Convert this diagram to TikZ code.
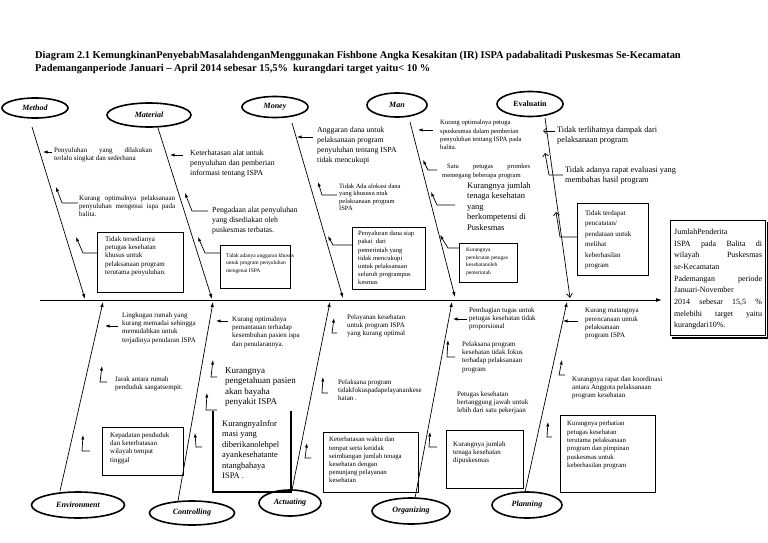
\documentclass[tikz,border=0pt]{standalone}
\usepackage{fontspec}
\setmainfont{Liberation Serif}
\usetikzlibrary{arrows.meta,shapes.geometric}
\begin{document}
\begin{tikzpicture}[x=1pt,y=-1pt,
 bone/.style={line width=0.7pt,-{Latex[length=5pt,width=3.5pt]}},
 obone/.style={line width=0.7pt,-{Straight Barb[length=4pt,width=6pt]}},
 cause/.style={line width=0.7pt,-{Latex[length=4.5pt,width=3.2pt]}},
 ocause/.style={line width=0.7pt,-{Straight Barb[length=3pt,width=6pt]}},
 ell/.style={ellipse,draw,line width=1.6pt,inner sep=0pt,font=\fontsize{8}{9}\selectfont\bfseries\itshape},
 sb/.style={anchor=north west,inner sep=0pt,align=left,font=\fontsize{7}{8.4}\selectfont},
 sa/.style={anchor=north west,inner sep=0pt,align=left,font=\fontsize{5.5}{7.5}\selectfont},
 md/.style={anchor=north west,inner sep=0pt,align=left,font=\fontsize{7.8}{9.8}\selectfont},
 lg/.style={anchor=north west,inner sep=0pt,align=left,font=\fontsize{8.5}{10.5}\selectfont},
 bx/.style={draw,line width=1.2pt,anchor=north west,inner sep=0pt},
]
\useasboundingbox (0,0) rectangle (768,543);
\fill[white] (0,0) rectangle (768,543);

% title
\node[anchor=north west,inner sep=0pt,align=left,font=\fontsize{10.4}{13}\selectfont\bfseries] (title) at (35,51)
 {Diagram 2.1 KemungkinanPenyebabMasalahdenganMenggunakan Fishbone Angka Kesakitan (IR) ISPA padabalitadi Puskesmas Se-Kecamatan\\
  Pademanganperiode Januari -- April 2014 sebesar 15,5\%\ \ kurangdari target yaitu< 10 \%};

% effect box
\node[draw=black,line width=1.3pt,anchor=north west,inner xsep=3.5pt,inner ysep=0pt,minimum height=115pt,
      align=justify,text width=88pt,font=\fontsize{8}{11.7}\selectfont] (eff) at (670,220)
 {\rule{0pt}{12pt}JumlahPenderita\\ ISPA pada Balita di\linebreak wilayah\ \ Puskesmas\linebreak se-Kecamatan\\ Pademangan periode\linebreak Januari-November\\ 2014 sebesar 15,5 \%\linebreak melebihi target yaitu\linebreak kurangdari10\%.\rule[-6pt]{0pt}{6pt}};
\draw[line width=1.5pt] ([shift={(1.5,1.5)}]eff.south west) -- ([shift={(1.5,1.5)}]eff.south east) -- ([shift={(1.5,1.5)}]eff.north east);

% spine
\coordinate (sL) at (40,300);
\coordinate (sR) at (662,300);
\draw[line width=0.9pt,-{Latex[length=6pt,width=4pt]}] (sL) -- (sR);

% ellipses top
\node[ell,minimum width=66pt,minimum height=20pt] (method) at (35,108) {Method};
\node[ell,minimum width=84pt,minimum height=24pt] (material) at (149,115) {Material};
\node[ell,minimum width=66pt,minimum height=21pt] (money) at (275,107) {Money};
\node[ell,minimum width=60pt,minimum height=24pt] (man) at (397,105) {Man};
\node[ell,minimum width=66pt,minimum height=25pt,font=\fontsize{8}{9}\selectfont\bfseries] (evaluatin) at (530,104) {Evaluatin};
% ellipses bottom
\node[ell,minimum width=93pt,minimum height=26pt] (environment) at (78,505) {Environment};
\node[ell,minimum width=85pt,minimum height=24pt] (controlling) at (192,513) {Controlling};
\node[ell,minimum width=62pt,minimum height=26pt] (actuating) at (290,503) {Actuating};
\node[ell,minimum width=78pt,minimum height=26pt] (organizing) at (411,511) {Organizing};
\node[ell,minimum width=70pt,minimum height=26pt] (planning) at (527,505) {Planning};

% bones
\coordinate (mA) at (32,127);  \coordinate (mB) at (85,299);
\coordinate (maA) at (158,128); \coordinate (maB) at (212,299);
\coordinate (moA) at (292,123); \coordinate (moB) at (343,298);
\coordinate (mnA) at (410,122); \coordinate (mnB) at (455,297);
\coordinate (evA) at (545,118); \coordinate (evB) at (570,298);
\coordinate (enA) at (60,491);  \coordinate (enB) at (103,302);
\coordinate (coA) at (178,501); \coordinate (coB) at (213,302);
\coordinate (acA) at (292,490); \coordinate (acB) at (330,302);
\coordinate (orA) at (415,498); \coordinate (orB) at (452,302);
\coordinate (plA) at (525,492); \coordinate (plB) at (567,302);
\draw[bone] (mA) -- (mB);
\draw[bone] (maA) -- (maB);
\draw[bone] (moA) -- (moB);
\draw[bone] (mnA) -- (mnB);
\draw[obone] (evA) -- (evB);
\draw[bone] (enA) -- (enB);
\draw[bone] (coA) -- (coB);
\draw[bone] (acA) -- (acB);
\draw[bone] (orA) -- (orB);
\draw[bone] (plA) -- (plB);

% ---------- Method
\node[sb,align=justify,text width=98pt] (tm1) at (54,147) {Penyuluhan yang dilakukan\linebreak terlalu singkat dan sederhana};
\draw[cause] (52,152) -- (43,152);
\node[sb,align=justify,text width=96pt] (tm2) at (79,195) {Kurang optimalnya pelaksanaan\linebreak penyuluhan mengenai ispa pada\linebreak balita.};
\draw[cause] (78,203) -- (62,203) -- (56,187);
\node[bx,minimum width=86pt,minimum height=60pt] (bm3) at (97,232) {};
\node[sb] (tm3) at (105,236) {Tidak tersedianya\\ petugas kesehatan\\ khusus untuk\\ pelaksanaan program\\ terutama penyuluhan.};
\draw[cause] (97,253) -- (83,253) -- (76,237);

% ---------- Material
\node[md] (tma1) at (190,150) {Keterbatasan alat untuk\\ penyuluhan dan pemberian\\ informasi tentang ISPA};
\draw[cause] (183,155) -- (170,155);
\node[md] (tma2) at (212,207) {Pengadaan alat penyuluhan\\ yang disediakan oleh\\ puskesmas terbatas.};
\draw[cause] (208,211) -- (192,211) -- (185,193);
\node[bx,minimum width=70pt,minimum height=43pt] (bma3) at (220,245) {};
\node[sa] (tma3) at (226,253) {Tidak adanya anggaran khusus\\ untuk program penyuluhan\\ mengenai ISPA};
\draw[cause] (220,253) -- (205,253) -- (198,237);

% ---------- Money
\node[md] (tmo1) at (317,127) {Anggaran dana untuk\\ pelaksanaan program\\ penyuluhan tentang ISPA\\ tidak mencukupi};
\draw[cause] (313,137) -- (297,137);
\node[sb,font=\fontsize{6.5}{7.2}\selectfont] (tmo2) at (339,184) {Tidak Ada alokasi dana\\ yang khususu ntuk\\ pelaksanaan program\\ ISPA};
\draw[cause] (337,195) -- (322,195) -- (318,182);
\node[bx,minimum width=73pt,minimum height=62pt] (bmo3) at (352,227) {};
\node[sb,font=\fontsize{6.6}{8.2}\selectfont] (tmo3) at (358,231) {Penyaluran dana siap\\ pakai\ \ dari\\ pemerintah yang\\ tidak mencukupi\\ untuk pelaksanaan\\ seluruh programpus\\ kesmas};
\draw[cause] (352,245) -- (333,245) -- (328,236);

% ---------- Man
\node[sb,font=\fontsize{6.6}{8.3}\selectfont] (tmn1) at (440,120) {Kurang optimalnya petuga\\ spuskesmas dalam pemberian\\ penyuluhan tentang ISPA pada\\ balita.};
\draw[cause] (433,130) -- (418,130);
\node[sb,font=\fontsize{6.6}{8.3}\selectfont,align=justify,text width=88pt] (tmn2) at (442,164) {\hspace*{5pt}Satu petugas promkes\linebreak memegang beberapa program};
\draw[cause] (437,170) -- (428,170) -- (423,160);
\node[lg] (tmn3) at (467,182) {Kurangnya jumlah\\ tenaga kesehatan\\ yang\\ berkompetensi di\\ Puskesmas};
\draw[cause] (455,205) -- (437,205) -- (431,192);
\node[bx,minimum width=58pt,minimum height=39pt] (bmn4) at (459,243) {};
\node[sa] (tmn4) at (466,248) {Kurangnya\\ perekrutan petugas\\ kesehatanoleh\\ pemerintah};
\draw[cause] (459,248) -- (448,248) -- (440,235);

% ---------- Evaluatin
\node[md,font=\fontsize{8.3}{10}\selectfont] (tev1) at (557,127) {Tidak terlihatnya dampak dari\\ pelaksanaan program};
\draw[ocause] (555,131) -- (543,131);
\node[md,font=\fontsize{8.3}{10}\selectfont] (tev2) at (565,167) {Tidak adanya rapat evaluasi yang\\ membahas hasil program};
\draw[ocause] (563,175) -- (549,175) -- (545,153);
\node[bx,minimum width=71pt,minimum height=72pt] (bev3) at (577,203) {};
\node[anchor=north west,inner sep=0pt,align=left,font=\fontsize{7}{10.5}\selectfont] (tev3) at (585,210) {Tidak terdapat\\ pencatatan/\\ pendataan untuk\\ melihat\\ keberhasilan\\ program};
\draw[ocause] (577,237) -- (560,237) -- (556,212);

% ---------- Environment
\node[sb] (ten1) at (122,312) {Lingkugan rumah yang\\ kurang memadai sehingga\\ memudahkan untuk\\ terjadinya penularan ISPA};
\draw[cause] (118,326) -- (105,326);
\node[sb] (ten2) at (115,376) {Jarak antara rumah\\ penduduk sangatsempit.};
\draw[cause] (107,382) -- (100,382) -- (102,366);
\node[bx,minimum width=81pt,minimum height=48pt] (ben3) at (102,427) {};
\node[sb] (ten3) at (110,432) {Kepadatan penduduk\\ dan keterbatasan\\ wilayah tempat\\ tinggal};
\draw[cause] (90,451) -- (82,451) -- (83,435);

% ---------- Controlling
\node[sb] (tco1) at (232,316) {Kurang optimalnya\\ pemantauan terhadap\\ kesembuhan pasien ispa\\ dan penularannya.};
\draw[cause] (228,321) -- (216,321);
\node[lg,font=\fontsize{9}{10.6}\selectfont] (tco2) at (225,367) {Kurangnya\\ pengetahuan pasien\\ akan bayaha\\ penyakit ISPA};
\draw[cause] (217,377) -- (211,377) -- (213,360);
\draw[line width=2pt] (213,411) -- (213,492) -- (291,492) -- (291,411);
\node[lg] (tco3) at (222,420) {KurangnyaInfor\\ masi yang\\ diberikanolehpel\\ ayankesehatante\\ ntangbahaya\\ ISPA .};
\draw[cause] (217,410) -- (206,410) -- (207,393);
\draw[cause] (202,447) -- (196,447) -- (195,433);

% ---------- Actuating
\node[sb] (tac1) at (347,314) {Pelayanan kesehatan\\ untuk program ISPA\\ yang kurang optimal};
\draw[cause] (337,333) -- (332,333) -- (334,318);
\node[sb] (tac2) at (338,379) {Pelaksana program\\ tidakfokuspadapelayanankese\\ hatan .};
\draw[cause] (328,393) -- (322,393) -- (323,377);
\node[bx,minimum width=95pt,minimum height=60pt] (bac3) at (323,432) {};
\node[sb,font=\fontsize{6.8}{8.2}\selectfont] (tac3) at (329,437) {Keterbatasan waktu dan\\ tempat serta ketidak\\ seimbangan jumlah tenaga\\ kesehatan dengan\\ penunjang pelayanan\\ kesehatan};
\draw[cause] (311,458) -- (305,458) -- (307,443);

% ---------- Organizing
\node[sb] (tor1) at (469,307) {Pembagian tugas untuk\\ petugas kesehatan tidak\\ proporsional};
\draw[cause] (467,319) -- (453,319);
\node[sb] (tor2) at (462,341) {Pelaksana program\\ kesehatan tidak fokus\\ terhadap pelaksanaan\\ program};
\draw[cause] (455,357) -- (447,357) -- (448,340);
\node[sb] (tor3) at (457,391) {Petugas kesehatan\\ bertanggung jawab untuk\\ lebih dari satu pekerjaan};
\node[bx,minimum width=77pt,minimum height=58pt] (bor4) at (446,430) {};
\node[sb] (tor4) at (453,441) {Kurangnya jumlah\\ tenaga kesehatan\\ dipuskesmas};
\draw[cause] (437,447) -- (429,447) -- (430,432);

% ---------- Planning
\node[sb] (tpl1) at (585,308) {Kurang matangnya\\ perencanaan untuk\\ pelaksanaan\\ program ISPA};
\draw[cause] (578,321) -- (563,321);
\node[sb] (tpl2) at (572,376) {Kurangnya rapat dan koordinasi\\ antara Anggota pelaksanaan\\ program kesehatan};
\draw[cause] (565,375) -- (559,375) -- (562,360);
\node[bx,minimum width=95pt,minimum height=77pt] (bpl3) at (560,415) {};
\node[sb,font=\fontsize{6.8}{8.3}\selectfont] (tpl3) at (567,421) {Kurangnya perhatian\\ petugas kesehatan\\ terutama pelaksanaan\\ program dan pimpinan\\ puskesmas untuk\\ keberhasilan program};
\draw[cause] (552,437) -- (547,437) -- (548,422);
\end{tikzpicture}
\end{document}
